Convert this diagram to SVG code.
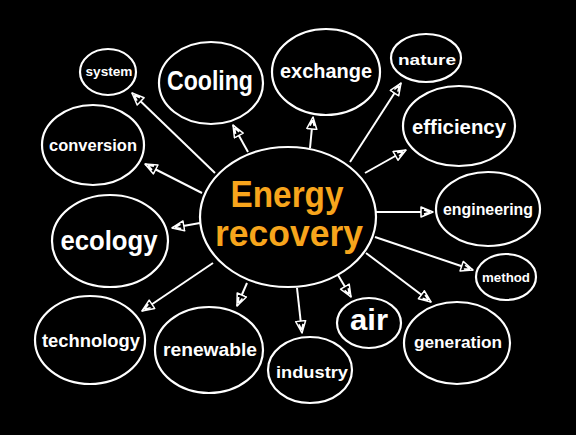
<svg xmlns="http://www.w3.org/2000/svg" width="576" height="435" viewBox="0 0 576 435">
<defs>
<style>
.n{fill:#000;stroke:#fff;stroke-width:2.2}
.t{fill:#fff;font-family:"Liberation Sans","DejaVu Sans",sans-serif;font-weight:bold;text-anchor:middle;dominant-baseline:central}
.c{fill:#f7a51c;font-family:"Liberation Sans","DejaVu Sans",sans-serif;font-weight:bold;text-anchor:middle}
.e{stroke:#fff;stroke-width:2;fill:none;marker-end:url(#ah)}
</style>
<marker id="ah" markerUnits="userSpaceOnUse" markerWidth="16" markerHeight="14" refX="13" refY="6" orient="auto">
<path d="M1,1 L13,6 L1,11 Z M4,4 L10,6 M4,8 L10,6" fill="#000" stroke="#fff" stroke-width="1.5" stroke-linejoin="round"/>
</marker>
</defs>
<rect width="576" height="435" fill="#000"/>
<g id="connectors">
<line class="e" x1="215" y1="173" x2="132" y2="93"/>
<line class="e" x1="248" y1="152" x2="233" y2="125"/>
<line class="e" x1="202" y1="193" x2="145" y2="164"/>
<line class="e" x1="310" y1="148" x2="313" y2="117"/>
<line class="e" x1="350" y1="162" x2="401" y2="83"/>
<line class="e" x1="365" y1="173" x2="406" y2="150"/>
<line class="e" x1="376" y1="212" x2="433" y2="212"/>
<line class="e" x1="200" y1="223" x2="172" y2="228"/>
<line class="e" x1="213" y1="263" x2="142" y2="311"/>
<line class="e" x1="247" y1="283" x2="237" y2="306"/>
<line class="e" x1="297" y1="288" x2="302" y2="333"/>
<line class="e" x1="338" y1="275" x2="351" y2="297"/>
<line class="e" x1="366" y1="253" x2="431" y2="302"/>
<line class="e" x1="375" y1="237" x2="473" y2="270"/>
</g>
<g id="center">
<ellipse class="n" cx="288" cy="217" rx="88" ry="70" stroke-width="2.6"/>
<text class="c" x="287" y="207" font-size="36" textLength="113" lengthAdjust="spacingAndGlyphs">Energy</text>
<text class="c" x="289" y="246" font-size="36" textLength="148" lengthAdjust="spacingAndGlyphs">recovery</text>
</g>
<g id="system"><ellipse class="n" cx="108" cy="72" rx="28" ry="23"/><text class="t" x="109" y="71" font-size="13" textLength="47" lengthAdjust="spacingAndGlyphs">system</text></g>
<g id="cooling"><ellipse class="n" cx="211" cy="83" rx="52" ry="41"/><text class="t" x="210" y="81" font-size="27" textLength="86" lengthAdjust="spacingAndGlyphs">Cooling</text></g>
<g id="conversion"><ellipse class="n" cx="93" cy="145" rx="51" ry="40"/><text class="t" x="93" y="145" font-size="17" textLength="88" lengthAdjust="spacingAndGlyphs">conversion</text></g>
<g id="exchange"><ellipse class="n" cx="326" cy="72" rx="54" ry="43"/><text class="t" x="326" y="71" font-size="20" textLength="92" lengthAdjust="spacingAndGlyphs">exchange</text></g>
<g id="nature"><ellipse class="n" cx="426" cy="58" rx="35" ry="24"/><text class="t" x="427" y="59" font-size="15" textLength="58" lengthAdjust="spacingAndGlyphs">nature</text></g>
<g id="efficiency"><ellipse class="n" cx="459" cy="126" rx="56" ry="40"/><text class="t" x="459" y="127" font-size="20" textLength="94" lengthAdjust="spacingAndGlyphs">efficiency</text></g>
<g id="engineering"><ellipse class="n" cx="488" cy="209" rx="52" ry="37"/><text class="t" x="488" y="209" font-size="16" textLength="90" lengthAdjust="spacingAndGlyphs">engineering</text></g>
<g id="ecology"><ellipse class="n" cx="110" cy="241" rx="58" ry="46"/><text class="t" x="109" y="241" font-size="27" textLength="97" lengthAdjust="spacingAndGlyphs">ecology</text></g>
<g id="technology"><ellipse class="n" cx="90" cy="340" rx="55" ry="44"/><text class="t" x="91" y="340" font-size="19" textLength="98" lengthAdjust="spacingAndGlyphs">technology</text></g>
<g id="renewable"><ellipse class="n" cx="209" cy="350" rx="54" ry="43"/><text class="t" x="210" y="349" font-size="19" textLength="94" lengthAdjust="spacingAndGlyphs">renewable</text></g>
<g id="industry"><ellipse class="n" cx="310" cy="370" rx="42" ry="33"/><text class="t" x="312" y="372" font-size="17" textLength="72" lengthAdjust="spacingAndGlyphs">industry</text></g>
<g id="air"><ellipse class="n" cx="369" cy="323" rx="32" ry="25"/><text class="t" x="369" y="320" font-size="29" textLength="38" lengthAdjust="spacingAndGlyphs">air</text></g>
<g id="generation"><ellipse class="n" cx="457" cy="343" rx="53" ry="41"/><text class="t" x="458" y="342" font-size="17" textLength="88" lengthAdjust="spacingAndGlyphs">generation</text></g>
<g id="method"><ellipse class="n" cx="506" cy="277" rx="30" ry="23"/><text class="t" x="506" y="277" font-size="13" textLength="48" lengthAdjust="spacingAndGlyphs">method</text></g>
</svg>
